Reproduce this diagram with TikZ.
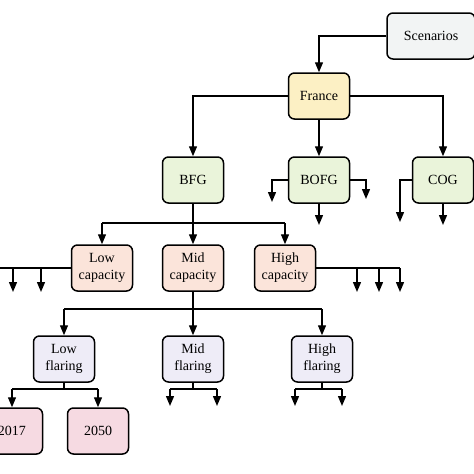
\documentclass[tikz,border=0pt]{standalone}
\usepackage{fontspec}
\setmainfont{Liberation Serif}
\usetikzlibrary{arrows.meta}
\definecolor{scenfill}{HTML}{F2F4F4}
\definecolor{francefill}{HTML}{FCF0C4}
\definecolor{gasfill}{HTML}{EAF4DA}
\definecolor{capfill}{HTML}{FBE4DA}
\definecolor{flarefill}{HTML}{EEECF7}
\definecolor{yearfill}{HTML}{F6DAE2}
\tikzset{
	box/.style={draw, line width=1.5pt, rounded corners=6pt, minimum width=61pt, minimum height=46pt, align=center, font=\fontsize{14}{17}\selectfont},
	arr/.style={line width=1.4pt, -{Triangle[length=10pt, width=8pt]}},
	ln/.style={line width=1.4pt}
}
\begin{document}
\begin{tikzpicture}[x=1pt, y=-1pt]
				\useasboundingbox (0, 0) rectangle (474, 474);
				\node [box, fill=scenfill, minimum width=88pt] (scen) at (431, 36) {Scenarios};
				\node [box, fill=francefill] (fr) at (319, 96) {France};
				\node [box, fill=gasfill] (bfg) at (193, 180) {BFG};
				\node [box, fill=gasfill] (bofg) at (319, 180) {BOFG};
				\node [box, fill=gasfill] (cog) at (443, 180) {COG};
				\node [box, fill=capfill] (lowc) at (102, 268) {Low\\capacity};
				\node [box, fill=capfill] (midc) at (193, 268) {Mid\\capacity};
				\node [box, fill=capfill] (highc) at (285, 268) {High\\capacity};
				\node [box, fill=flarefill] (lowf) at (64, 359) {Low\\flaring};
				\node [box, fill=flarefill] (midf) at (193, 359) {Mid\\flaring};
				\node [box, fill=flarefill] (highf) at (322, 359) {High\\flaring};
				\node [box, fill=yearfill] (y2017) at (12, 431) {2017};
				\node [box, fill=yearfill] (y2050) at (98, 431) {2050};
				\coordinate (bofgL) at (272, 202);
				\coordinate (bofgR) at (366, 199);
				\coordinate (bofgB) at (319, 225);
				\coordinate (cogL) at (400, 222);
				\coordinate (cogB) at (443, 225);
				\coordinate (bfgJ) at (193, 223);
				\coordinate (midcJ) at (193, 309);
				\coordinate (lowfJ) at (64, 389);
				\coordinate (midfJ) at (193, 389);
				\coordinate (highfJ) at (322, 389);
				\draw [arr] (scen.west) -| (fr.north);
				\draw [arr] (fr.west) -| (bfg.north);
				\draw [arr] (fr.south) -- (bofg.north);
				\draw [arr] (fr.east) -| (cog.north);
				\draw [arr] (bofg.west) -| (bofgL);
				\draw [arr] (bofg.east) -| (bofgR);
				\draw [arr] (bofg.south) -- (bofgB);
				\draw [arr] (cog.west) -| (cogL);
				\draw [arr] (cog.south) -- (cogB);
				\draw [ln] (bfg.south) -- (bfgJ);
				\draw [ln] (bfgJ -| lowc.north) -- (bfgJ -| highc.north);
				\draw [arr] (bfgJ -| lowc.north) -- (lowc.north);
				\draw [arr] (bfgJ) -- (midc.north);
				\draw [arr] (bfgJ -| highc.north) -- (highc.north);
				\draw [ln] (lowc.west) -- (0, 268);
				\draw [arr] (13, 268) -- (13, 292);
				\draw [arr] (41, 268) -- (41, 292);
				\draw [ln] (highc.east) -- (400, 268);
				\draw [arr] (357, 268) -- (357, 292);
				\draw [arr] (379, 268) -- (379, 292);
				\draw [arr] (400, 268) -- (400, 292);
				\draw [ln] (midc.south) -- (midcJ);
				\draw [ln] (midcJ -| lowf.north) -- (midcJ -| highf.north);
				\draw [arr] (midcJ -| lowf.north) -- (lowf.north);
				\draw [arr] (midcJ) -- (midf.north);
				\draw [arr] (midcJ -| highf.north) -- (highf.north);
				\draw [ln] (lowf.south) -- (lowfJ);
				\draw [ln] (lowfJ -| y2017.north) -- (lowfJ -| y2050.north);
				\draw [arr] (lowfJ -| y2017.north) -- (y2017.north);
				\draw [arr] (lowfJ -| y2050.north) -- (y2050.north);
				\draw [ln] (midf.south) -- (midfJ);
				\draw [ln] (170, 389) -- (217, 389);
				\draw [arr] (170, 389) -- (170, 406);
				\draw [arr] (217, 389) -- (217, 406);
				\draw [ln] (highf.south) -- (highfJ);
				\draw [ln] (295, 389) -- (342, 389);
				\draw [arr] (295, 389) -- (295, 406);
				\draw [arr] (342, 389) -- (342, 406);
			\end{tikzpicture}
\end{document}
